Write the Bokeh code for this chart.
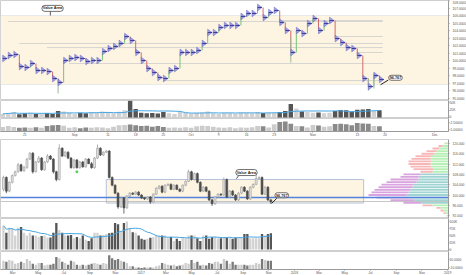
import pandas as pd
from bokeh.plotting import figure
from bokeh.layouts import column
from bokeh.models import (Range1d, FixedTicker, SingleIntervalTicker, PrintfTickFormatter,
                          BoxAnnotation, Label)
from bokeh.embed import file_html
from bokeh.resources import INLINE

# ---------------- upper chart: daily sessions (trading-day index), Aug-Nov 2017 ----------------
top_poc = [100.27, 100.67, 100.8, 99.2, 99.07, 99.6, 98.67, 98.67, 98.53, 97.6,
           97.07, 100.0, 100.27, 100.4, 100.27, 99.87, 100.0, 100.0, 101.2, 101.6,
           101.87, 102.27, 103.2, 102.67, 101.07, 100.0, 98.93, 98.4, 97.73, 97.6,
           98.67, 98.93, 101.07, 101.07, 101.07, 101.33, 102.27, 103.73, 103.73, 104.4,
           104.67, 104.67, 104.67, 105.87, 106.27, 106.27, 107.07, 105.73, 106.4, 106.67,
           105.07, 104.0, 101.07, 104.0, 103.6, 104.93, 105.6, 104.0, 104.93, 105.33,
           102.93, 102.4, 101.73, 101.6, 100.67, 97.6, 96.53, 98.0, 97.47]
top_vol = [12, 15, 18, 11, 14, 16, 12, 13, 15, 12,
           22, 20, 17, 12, 16, 14, 18, 15, 20, 16,
           14, 19, 24, 56, 28, 16, 14, 15, 13, 18,
           14, 12, 18, 15, 13, 16, 17, 20, 14, 12,
           16, 15, 13, 17, 16, 14, 18, 15, 17, 16,
           18, 22, 45, 30, 20, 18, 16, 17, 14, 16,
           22, 25, 24, 20, 26, 27, 28, 22, 24]
top_osc = [-4.1, -3.8, -4.1, -4.4, -4.3, -4.4, -4.2, -4.4, -3.8, -3.5,
           -3.4, -3.7, -4.4, -4.2, -4.5, -4.3, -4.4, -4.2, -4.3, -4.5,
           -4.0, -3.5, -3.4, -3.3, -3.5, -3.8, -3.7, -4.0, -3.8, -4.1,
           -4.4, -4.3, -4.4, -4.2, -4.4, -3.9, -3.7, -3.8, -4.0, -4.3,
           -4.4, -4.2, -4.5, -4.3, -4.4, -4.2, -3.8, -3.9, -4.3, -3.2,
           -2.4, -2.3, -3.0, -3.8, -3.9, -4.3, -3.4, -3.6, -4.0, -3.9,
           -3.1, -3.0, -3.2, -3.5, -2.8, -2.9, -3.0, -3.8, -3.9]
top_wick_day = [10, 22, 46, 52, 66, 67]
top_wick_low = [95.6, 102.67, 106.4, 99.73, 96.0, 96.27]
top_wick_high = [97.6, 103.33, 107.2, 103.07, 97.6, 98.3]
naked_day = [1, 3, 8, 12, 29, 50, 60, 64]
naked_price = [105.2, 102.27, 101.73, 99.6, 97.33, 105.33, 103.2, 101.07]
top_va_low, top_va_high = 96.8, 106.0
top_tick_day = [4, 13, 19, 24, 29, 34, 39, 44, 49, 56, 64, 69, 78]
top_tick_label = ["21", "Sep", "11", "18", "25", "Oct", "9", "16", "23", "Nov", "13", "20", "Dec"]
top_vol_ticks = [0, 25, 50]
top_vol_labels = ["0", "25K", "50K"]
top_osc_ticks = [-5.0, -2.5]

# ---------------- lower chart: weekly bars, 2016-2017 ----------------
bot_open = [102.2, 106.8, 101.5, 104.9, 107.5, 109.0, 111.7, 109.4, 110.6, 113.9,
            116.2, 109.0, 112.8, 114.3, 109.8, 112.8, 115.1, 113.9, 109.0, 106.0,
            118.1, 115.1, 116.6, 114.3, 110.6, 113.6, 110.6, 112.8, 110.9, 113.9,
            112.1, 110.6, 114.3, 118.1, 115.5, 116.6, 117.0, 106.8, 103.8, 100.7,
            95.4, 98.8, 95.0, 99.6, 100.7, 100.3, 101.1, 100.0, 98.8, 98.5,
            99.2, 97.3, 100.3, 102.6, 103.4, 101.1, 103.8, 104.1, 102.2, 103.8,
            102.2, 101.5, 103.8, 105.3, 109.0, 106.0, 108.3, 104.9, 101.5, 103.0,
            101.5, 98.1, 96.6, 99.2, 100.3, 100.0, 106.0, 99.2, 101.5, 100.0,
            98.1, 100.7, 103.0, 101.5, 98.5, 103.0, 104.1, 106.4, 106.8, 100.3,
            103.0, 98.1]
bot_close = [106.8, 101.5, 104.9, 107.5, 109.0, 111.7, 109.4, 110.6, 113.9, 116.2,
             109.0, 112.8, 114.3, 109.8, 112.8, 115.1, 113.9, 109.0, 106.0, 118.1,
             115.1, 116.6, 114.3, 110.6, 113.6, 110.6, 112.8, 110.9, 113.9, 112.1,
             110.6, 114.3, 118.1, 115.5, 116.6, 117.0, 106.8, 103.8, 100.7, 95.4,
             98.8, 95.0, 99.6, 100.7, 100.3, 101.1, 100.0, 98.8, 98.5, 99.2,
             97.3, 100.3, 102.6, 103.4, 101.1, 103.8, 104.1, 102.2, 103.8, 102.2,
             101.5, 103.8, 105.3, 109.0, 106.0, 108.3, 104.9, 101.5, 103.0, 101.5,
             98.1, 96.6, 99.2, 100.3, 100.0, 106.0, 99.2, 101.5, 100.0, 98.1,
             100.7, 103.0, 101.5, 98.5, 103.0, 104.1, 106.4, 106.8, 100.3, 103.0,
             98.1, 97.3]
bot_high = [107.5, 107.2, 105.3, 108.0, 109.4, 112.4, 112.1, 111.3, 114.3, 116.6,
            116.6, 113.2, 115.1, 114.7, 113.2, 115.8, 115.5, 114.3, 109.4, 119.6,
            118.5, 117.0, 116.9, 114.7, 113.9, 113.9, 113.2, 113.2, 114.3, 114.3,
            112.8, 114.7, 119.6, 118.5, 116.9, 117.4, 117.4, 107.2, 104.1, 101.1,
            99.2, 99.2, 100.0, 101.1, 101.1, 101.5, 101.5, 100.3, 99.2, 99.6,
            99.6, 100.7, 103.0, 103.8, 103.8, 104.1, 104.5, 104.5, 104.1, 104.1,
            102.6, 104.1, 105.6, 109.8, 109.4, 108.7, 108.7, 105.3, 103.4, 103.4,
            101.9, 98.5, 99.6, 100.7, 100.7, 106.8, 106.4, 101.9, 101.9, 100.3,
            101.1, 103.4, 103.4, 101.9, 103.4, 104.5, 107.9, 107.2, 107.2, 103.4,
            103.4, 98.5]
bot_low = [101.5, 100.7, 101.1, 104.5, 107.2, 108.7, 109.0, 109.0, 110.2, 113.6,
           108.3, 108.7, 112.4, 109.4, 109.4, 112.4, 113.6, 108.3, 105.3, 105.6,
           114.7, 114.7, 113.9, 110.2, 110.2, 110.2, 110.2, 110.6, 110.6, 112.1,
           110.2, 110.2, 113.9, 115.1, 115.1, 116.2, 106.4, 103.4, 100.3, 94.7,
           95.0, 92.8, 94.7, 99.2, 100.0, 100.0, 99.6, 98.5, 98.1, 98.1,
           96.6, 97.0, 100.0, 102.2, 100.7, 100.7, 103.4, 101.9, 101.9, 101.9,
           101.1, 101.1, 103.4, 105.0, 105.6, 105.6, 104.5, 101.1, 101.1, 101.1,
           97.7, 95.8, 96.2, 98.8, 99.6, 99.6, 98.8, 98.8, 99.6, 97.7,
           97.7, 100.3, 101.1, 98.1, 98.1, 102.6, 103.8, 106.0, 100.0, 100.0,
           97.7, 96.6]
bot_vol = [85, 60, 78, 75, 50, 78, 80, 60, 50, 60,
           50, 50, 45, 48, 50, 43, 43, 60, 95, 70,
           60, 50, 50, 52, 40, 45, 40, 50, 35, 30,
           40, 60, 60, 50, 52, 55, 58, 60, 95, 90,
           65, 95, 100, 75, 62, 60, 50, 38, 35, 38,
           42, 45, 50, 50, 50, 50, 40, 45, 30, 38,
           30, 45, 40, 50, 50, 50, 40, 30, 50, 50,
           38, 45, 45, 40, 40, 45, 43, 40, 38, 43,
           45, 45, 55, 55, 40, 40, 40, 40, 55, 50,
           55, 58]
bot_osc = [6, 4, 8, 6, -1, 1, 4, 1, 10, 6,
           -1, -3, 1, 1, -5, -3, -3, -1, 15, 12,
           4, 1, -3, 6, 4, -3, -5, -3, -5, -3,
           -1, 1, -1, -3, 1, -1, 19, 12, 8, 10,
           6, 4, 1, -7, -7, -10, -10, -11, -10, -10,
           -10, -10, -7, -5, 1, -1, -3, -5, -3, -7,
           -5, -3, 1, -1, 8, 1, 4, -5, -3, -5,
           1, -1, 4, 4, -1, 10, 6, -1, 4, -3,
           -3, -3, -3, -5, -3, -3, 1, -1, 10, 8,
           6, 6]
bot_first_week = "2016-02-08"
bot_va_start, bot_va_end = "2016-10-10", "2018-06-15"
bot_va_low, bot_va_high = 96.9, 106.0
bot_poc = 99.2
last_price = 97.3
callout_price = "96.767"
signal_week, signal_price = 25, 109.0
prof_price = [120, 119, 118, 117, 116, 115, 114, 113, 112, 111, 110, 109, 108, 107, 106,
              105, 104, 103, 102, 101, 100, 99, 98, 97, 96, 95, 94, 93, 92]
prof_buy = [60, 120, 180, 240, 280, 340, 360, 340, 360, 340, 300, 320, 560, 600, 600,
            640, 700, 720, 760, 800, 840, 800, 680, 540, 320, 160, 100, 60, 40]
prof_sell = [20, 80, 140, 200, 260, 320, 380, 460, 440, 420, 400, 240, 340, 360, 560,
             600, 640, 680, 720, 740, 760, 640, 480, 360, 200, 80, 60, 40, 0]
prof_va_low, prof_va_high = 97, 108
bot_tick_dates = ["2016-03-01", "2016-05-01", "2016-07-01", "2016-09-01", "2016-11-01",
                  "2017-01-01", "2017-03-01", "2017-05-01", "2017-07-01", "2017-09-01",
                  "2017-11-01", "2018-01-01", "2018-03-01", "2018-05-01", "2018-07-01",
                  "2018-09-01", "2018-11-01", "2019-01-01"]
bot_tick_labels = ["Mar", "May", "Jul", "Sep", "Nov", "2017", "Mar", "May", "Jul", "Sep",
                   "Nov", "2018", "Mar", "May", "Jul", "Sep", "Nov", "2019"]
bot_vol_ticks = [0, 25, 50, 75, 100]
bot_vol_labels = ["0", "25K", "50K", "75K", "100K"]
bot_osc_ticks = [-10, 10]

# ---------------- styling helpers ----------------
FONT = "Liberation Sans"
UP_C, DN_C = "#d2d2d2", "#555555"
FW = 448


def style_axis(ax):
    ax.axis_line_color = "#9a9a9a"
    ax.major_tick_line_color = "#9a9a9a"
    ax.minor_tick_line_color = None
    ax.major_tick_out = 1
    ax.major_tick_in = 0
    ax.major_label_standoff = 0
    ax.major_label_text_font = FONT
    ax.major_label_text_font_size = "3.3px"
    ax.major_label_text_color = "#555555"


def panel(xr, yr, fh, with_xaxis=False, xtype="linear"):
    p = figure(frame_width=FW, frame_height=fh, x_range=xr, y_range=yr,
               output_backend="svg", toolbar_location=None,
               y_axis_location="right", x_axis_location="below" if with_xaxis else None,
               x_axis_type=xtype,
               min_border_left=0, min_border_right=466 - FW, min_border_top=0,
               min_border_bottom=0)
    p.grid.visible = False
    p.outline_line_color = "#cfcfcf"
    p.outline_line_width = 1
    p.background_fill_color = "white"
    p.border_fill_color = "white"
    for ax in p.yaxis:
        style_axis(ax)
    for ax in p.xaxis:
        style_axis(ax)
    return p


def tag(p, price, text):
    p.add_layout(Label(x=FW + 1, x_units="screen", y=price, text=text, text_font=FONT,
                       text_font_size="3.3px", text_color="white", text_baseline="middle",
                       text_align="left", background_fill_color="#333333", padding=1,
                       level="overlay"))


def callout(p, x, y, text):
    p.add_layout(Label(x=x, y=y, text=text, text_font=FONT, text_font_size="3.8px",
                       text_font_style="bold", text_color="#222222", text_align="center",
                       text_baseline="middle", background_fill_color="white",
                       border_line_color="#333333", border_line_width=0.7,
                       border_radius=3, padding=1))


# ---------------- upper chart ----------------
n_top = len(top_poc)
days = list(range(n_top))
top_up = [True] + [top_poc[i] >= top_poc[i - 1] for i in range(1, n_top)]
XR_top = Range1d(-0.4, -0.4 + FW / 5.54)

p1 = panel(XR_top, Range1d(94.67, 108.0), 100)
p1.yaxis.ticker = SingleIntervalTicker(interval=1)
p1.yaxis.formatter = PrintfTickFormatter(format="%.4f")
p1.add_layout(BoxAnnotation(bottom=top_va_low, top=top_va_high, fill_color="#fdf5e1",
                            fill_alpha=1, line_color="#b7c3dd", line_width=1, level="underlay"))
p1.segment(x0=naked_day, x1=[days[-1] + 0.6] * len(naked_day), y0=naked_price, y1=naked_price,
           line_color="#cdcdcd", line_width=0.8)
p1.segment(x0=days[1:], x1=days[1:], y0=top_poc[:-1], y1=top_poc[1:],
           line_color=["#79c279" if u else "#d26b6b" for u in top_up[1:]], line_width=1)
p1.segment(x0=top_wick_day, x1=top_wick_day, y0=top_wick_low, y1=top_wick_high,
           line_color="#9bb89b", line_width=1)
p1.patches(xs=[[d, d + 0.8, d] for d in days],
           ys=[[v - 0.45, v, v + 0.45] for v in top_poc],
           fill_color="#8f8fe0", fill_alpha=0.85, line_color="#6a6ac4", line_width=0.5)
p1.segment(x0=days, x1=[d + 0.8 for d in days], y0=top_poc, y1=top_poc,
           line_color="#3d3d9a", line_width=1)
callout(p1, 9.0, 106.95, "Value Area")
p1.segment(x0=[8.6], x1=[8.6], y0=[106.55], y1=[top_va_high], line_color="#333333", line_width=0.8)
callout(p1, 70.9, 97.7, callout_price)
p1.segment(x0=[days[-1] + 0.2], x1=[69.6], y0=[float(callout_price)], y1=[97.4],
           line_color="#222222", line_width=1)
tag(p1, last_price, f"{last_price:.4f}")

p2 = panel(XR_top, Range1d(-3.3, 56.7), 18)
p2.yaxis.ticker = FixedTicker(ticks=top_vol_ticks)
p2.yaxis.major_label_overrides = dict(zip(top_vol_ticks, top_vol_labels))
p2.vbar(x=days, top=top_vol, bottom=0, width=0.8,
        fill_color=[UP_C if u else DN_C for u in top_up], line_color=None)
p2.line(days, pd.Series(top_vol).rolling(10, min_periods=1).mean().tolist(),
        line_color="#45a6e6", line_width=1)

p3 = panel(XR_top, Range1d(-5.625, -1.25), 13, with_xaxis=True)
p3.yaxis.ticker = FixedTicker(ticks=top_osc_ticks)
p3.yaxis.formatter = PrintfTickFormatter(format="%.5f")
p3.xaxis.ticker = FixedTicker(ticks=top_tick_day)
p3.xaxis.major_label_overrides = dict(zip(top_tick_day, top_tick_label))
p3.vbar(x=days, top=top_osc, bottom=-5.625, width=0.85,
        fill_color=["#cccccc" if u else "#8a8a8a" for u in top_up], line_color=None)

# ---------------- lower chart ----------------
n_bot = len(bot_close)
weeks = pd.date_range(bot_first_week, periods=n_bot, freq="7D")
bot_up = [c >= o for o, c in zip(bot_open, bot_close)]
DAY = 24 * 3600 * 1000
XR_bot = Range1d(pd.Timestamp("2016-02-01"),
                 pd.Timestamp("2016-02-01") + pd.Timedelta(days=FW / 0.4198))

p4 = panel(XR_bot, Range1d(90.9, 121.5), 79, xtype="datetime")
p4.yaxis.ticker = SingleIntervalTicker(interval=4)
p4.yaxis.formatter = PrintfTickFormatter(format="%.3f")
p4.extra_x_ranges = {"vp": Range1d(start=FW * 20, end=0)}
p4.quad(left=[pd.Timestamp(bot_va_start)], right=[pd.Timestamp(bot_va_end)],
        bottom=[bot_va_low], top=[bot_va_high], fill_color="#fdf5e1",
        line_color="#b5c1dc", line_width=1)
in_va = [prof_va_low <= v <= prof_va_high for v in prof_price]
p4.hbar(y=prof_price, left=0, right=prof_buy, height=0.72, x_range_name="vp",
        fill_color=["#9fd4d2" if a else "#b6f0b6" for a in in_va], line_color=None)
p4.hbar(y=prof_price, left=prof_buy, right=[b + s for b, s in zip(prof_buy, prof_sell)],
        height=0.72, x_range_name="vp",
        fill_color=["#d8a3de" if a else "#f8b7b7" for a in in_va], line_color=None)
p4.hspan(y=[last_price], line_color="#b9b9b9", line_width=0.8)
p4.hspan(y=[bot_poc], line_color="#5282dc", line_width=1.4)
wick_c = ["#9a9a9a" if u else "#4a4a4a" for u in bot_up]
p4.segment(x0=weeks, x1=weeks, y0=bot_low, y1=bot_high, line_color=wick_c, line_width=0.8)
p4.vbar(x=weeks, top=[max(o, c) for o, c in zip(bot_open, bot_close)],
        bottom=[min(o, c) for o, c in zip(bot_open, bot_close)], width=4.5 * DAY,
        fill_color=["#e4e4e4" if u else "#4f4f4f" for u in bot_up], line_color=wick_c,
        line_width=0.6)
p4.scatter(x=[weeks[signal_week]], y=[signal_price], marker="circle", size=3,
           fill_color="#5ad65a", line_color=None)
callout(p4, pd.Timestamp("2017-09-09"), 108.7, "Value Area")
p4.segment(x0=[pd.Timestamp("2017-08-22")], x1=[pd.Timestamp("2017-08-16")], y0=[107.7],
           y1=[106.3], line_color="#333333", line_width=0.8)
callout(p4, pd.Timestamp("2017-12-02"), 99.9, callout_price)
p4.segment(x0=[weeks[-1] + pd.Timedelta(days=2)], x1=[pd.Timestamp("2017-11-20")],
           y0=[float(callout_price)], y1=[98.7], line_color="#222222", line_width=1)
tag(p4, last_price, f"{last_price:.4f}")

p5 = panel(XR_bot, Range1d(-7.1, 110.7), 33, xtype="datetime")
p5.yaxis.ticker = FixedTicker(ticks=bot_vol_ticks)
p5.yaxis.major_label_overrides = dict(zip(bot_vol_ticks, bot_vol_labels))
p5.vbar(x=weeks, top=bot_vol, bottom=0, width=5.5 * DAY,
        fill_color=[UP_C if u else DN_C for u in bot_up], line_color=None)
p5.line(weeks, pd.Series(bot_vol).rolling(10, min_periods=1).mean().tolist(),
        line_color="#45a6e6", line_width=1)

p6 = panel(XR_bot, Range1d(-14.4, 27.8), 18, with_xaxis=True, xtype="datetime")
p6.yaxis.ticker = FixedTicker(ticks=bot_osc_ticks)
p6.yaxis.formatter = PrintfTickFormatter(format="%.4f")
tick_ms = [pd.Timestamp(d).value // 10**6 for d in bot_tick_dates]
p6.xaxis.ticker = FixedTicker(ticks=tick_ms)
p6.xaxis.major_label_overrides = dict(zip(tick_ms, bot_tick_labels))
p6.vbar(x=weeks, top=bot_osc, bottom=-14.4, width=5.5 * DAY,
        fill_color=["#cccccc" if u else "#7a7a7a" for u in bot_up], line_color=None)

layout = column(p1, p2, p3, p4, p5, p6, spacing=0)
open("out.html", "w").write(file_html(layout, INLINE))
